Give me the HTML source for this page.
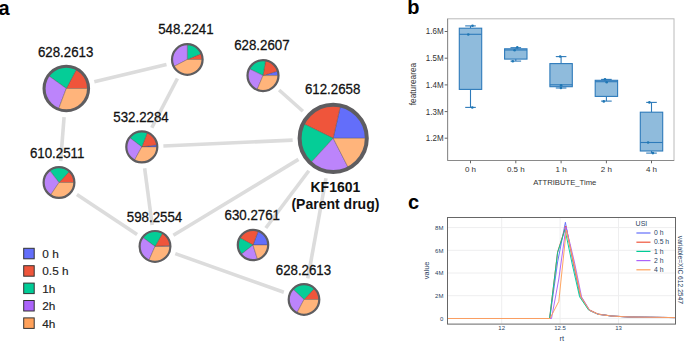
<!DOCTYPE html>
<html><head><meta charset="utf-8"><style>
html,body{margin:0;padding:0;background:#fff;}
svg{display:block;}
text{font-family:"Liberation Sans",sans-serif;}
</style></head><body>
<svg width="685" height="341" viewBox="0 0 685 341">
<rect width="685" height="341" fill="#fff"/>
<g font-weight="bold" font-size="20" fill="#000">
<text x="-1.4" y="14.5">a</text>
<text x="407.3" y="14.4">b</text>
<text x="407.9" y="208.9">c</text>
</g>
<g stroke="#dcdcdc" stroke-width="3.6" stroke-linecap="butt">
<line x1="94.31" y1="81.79" x2="166.49" y2="64.49"/>
<line x1="177.42" y1="78.48" x2="151.77" y2="127.74"/>
<line x1="64.07" y1="117.21" x2="60.66" y2="161.06"/>
<line x1="163.38" y1="145.93" x2="292.64" y2="140.12"/>
<line x1="144.64" y1="168.31" x2="152.17" y2="225.09"/>
<line x1="76.90" y1="194.41" x2="137.10" y2="234.49"/>
<line x1="173.38" y1="235.25" x2="298.49" y2="159.36"/>
<line x1="175.25" y1="253.62" x2="283.84" y2="292.32"/>
<line x1="279.11" y1="89.99" x2="302.92" y2="111.25"/>
<line x1="325.96" y1="178.25" x2="307.81" y2="278.44"/>
<line x1="265.80" y1="227.97" x2="308.81" y2="170.75"/>
</g>
<g stroke="rgba(70,60,60,0.55)" stroke-width="0.6">
<path d="M66.30,88.50 L88.55,88.50 A22.25,22.25 0 0 0 76.71,68.84 Z" fill="#ef553b"/>
<path d="M66.30,88.50 L76.71,68.84 A22.25,22.25 0 0 0 48.25,75.48 Z" fill="#05cd97"/>
<path d="M66.30,88.50 L48.25,75.48 A22.25,22.25 0 0 0 58.44,109.31 Z" fill="#bc84fb"/>
<path d="M66.30,88.50 L58.44,109.31 A22.25,22.25 0 0 0 88.55,88.50 Z" fill="#ffb47b"/>
<circle cx="66.3" cy="88.5" r="22.25" fill="none" stroke="#5e5d60" stroke-width="3.1"/>
<path d="M187.30,59.50 L202.60,59.50 A15.30,15.30 0 0 0 201.40,53.57 Z" fill="#ef553b"/>
<path d="M187.30,59.50 L201.40,53.57 A15.30,15.30 0 0 0 187.30,44.20 Z" fill="#05cd97"/>
<path d="M187.30,59.50 L187.30,44.20 A15.30,15.30 0 0 0 173.74,66.59 Z" fill="#bc84fb"/>
<path d="M187.30,59.50 L173.74,66.59 A15.30,15.30 0 0 0 202.60,59.50 Z" fill="#ffb47b"/>
<circle cx="187.3" cy="59.5" r="15.30" fill="none" stroke="#5e5d60" stroke-width="2.2"/>
<path d="M263.00,75.60 L278.50,75.60 A15.50,15.50 0 0 0 277.79,70.96 Z" fill="#636efa"/>
<path d="M263.00,75.60 L277.79,70.96 A15.50,15.50 0 0 0 265.61,60.32 Z" fill="#ef553b"/>
<path d="M263.00,75.60 L265.61,60.32 A15.50,15.50 0 0 0 249.14,68.66 Z" fill="#05cd97"/>
<path d="M263.00,75.60 L249.14,68.66 A15.50,15.50 0 0 0 256.99,89.89 Z" fill="#bc84fb"/>
<path d="M263.00,75.60 L256.99,89.89 A15.50,15.50 0 0 0 278.50,75.60 Z" fill="#ffb47b"/>
<circle cx="263.0" cy="75.6" r="15.50" fill="none" stroke="#5e5d60" stroke-width="2.2"/>
<path d="M333.20,138.30 L366.80,138.30 A33.60,33.60 0 0 0 340.53,105.51 Z" fill="#636efa"/>
<path d="M333.20,138.30 L340.53,105.51 A33.60,33.60 0 0 0 303.03,123.52 Z" fill="#ef553b"/>
<path d="M333.20,138.30 L303.03,123.52 A33.60,33.60 0 0 0 310.50,163.07 Z" fill="#05cd97"/>
<path d="M333.20,138.30 L310.50,163.07 A33.60,33.60 0 0 0 348.56,168.18 Z" fill="#bc84fb"/>
<path d="M333.20,138.30 L348.56,168.18 A33.60,33.60 0 0 0 366.80,138.30 Z" fill="#ffb47b"/>
<circle cx="333.2" cy="138.3" r="33.60" fill="none" stroke="#5e5d60" stroke-width="4.0"/>
<path d="M141.80,146.90 L157.30,146.90 A15.50,15.50 0 0 0 157.16,144.80 Z" fill="#636efa"/>
<path d="M141.80,146.90 L157.16,144.80 A15.50,15.50 0 0 0 147.33,132.42 Z" fill="#ef553b"/>
<path d="M141.80,146.90 L147.33,132.42 A15.50,15.50 0 0 0 129.49,137.49 Z" fill="#05cd97"/>
<path d="M141.80,146.90 L129.49,137.49 A15.50,15.50 0 0 0 134.33,160.48 Z" fill="#bc84fb"/>
<path d="M141.80,146.90 L134.33,160.48 A15.50,15.50 0 0 0 157.30,146.90 Z" fill="#ffb47b"/>
<circle cx="141.8" cy="146.9" r="15.50" fill="none" stroke="#5e5d60" stroke-width="2.2"/>
<path d="M59.00,182.50 L74.40,182.50 A15.40,15.40 0 0 0 69.54,171.27 Z" fill="#ef553b"/>
<path d="M59.00,182.50 L69.54,171.27 A15.40,15.40 0 0 0 49.54,170.35 Z" fill="#05cd97"/>
<path d="M59.00,182.50 L49.54,170.35 A15.40,15.40 0 0 0 50.46,195.31 Z" fill="#bc84fb"/>
<path d="M59.00,182.50 L50.46,195.31 A15.40,15.40 0 0 0 74.40,182.50 Z" fill="#ffb47b"/>
<circle cx="59.0" cy="182.5" r="15.40" fill="none" stroke="#5e5d60" stroke-width="2.2"/>
<path d="M155.00,246.40 L170.40,246.40 A15.40,15.40 0 0 0 170.38,245.59 Z" fill="#636efa"/>
<path d="M155.00,246.40 L170.38,245.59 A15.40,15.40 0 0 0 162.61,233.01 Z" fill="#ef553b"/>
<path d="M155.00,246.40 L162.61,233.01 A15.40,15.40 0 0 0 142.56,237.33 Z" fill="#05cd97"/>
<path d="M155.00,246.40 L142.56,237.33 A15.40,15.40 0 0 0 148.83,260.51 Z" fill="#bc84fb"/>
<path d="M155.00,246.40 L148.83,260.51 A15.40,15.40 0 0 0 170.40,246.40 Z" fill="#ffb47b"/>
<circle cx="155.0" cy="246.4" r="15.40" fill="none" stroke="#5e5d60" stroke-width="2.2"/>
<path d="M253.00,245.00 L268.20,245.00 A15.20,15.20 0 0 0 258.32,230.76 Z" fill="#636efa"/>
<path d="M253.00,245.00 L258.32,230.76 A15.20,15.20 0 0 0 239.65,237.72 Z" fill="#ef553b"/>
<path d="M253.00,245.00 L239.65,237.72 A15.20,15.20 0 0 0 241.07,254.42 Z" fill="#05cd97"/>
<path d="M253.00,245.00 L241.07,254.42 A15.20,15.20 0 0 0 257.57,259.50 Z" fill="#bc84fb"/>
<path d="M253.00,245.00 L257.57,259.50 A15.20,15.20 0 0 0 268.20,245.00 Z" fill="#ffb47b"/>
<circle cx="253.0" cy="245.0" r="15.20" fill="none" stroke="#5e5d60" stroke-width="2.2"/>
<path d="M304.00,299.50 L319.30,299.50 A15.30,15.30 0 0 0 314.49,288.37 Z" fill="#ef553b"/>
<path d="M304.00,299.50 L314.49,288.37 A15.30,15.30 0 0 0 292.87,289.01 Z" fill="#05cd97"/>
<path d="M304.00,299.50 L292.87,289.01 A15.30,15.30 0 0 0 296.86,313.03 Z" fill="#bc84fb"/>
<path d="M304.00,299.50 L296.86,313.03 A15.30,15.30 0 0 0 319.30,299.50 Z" fill="#ffb47b"/>
<circle cx="304.0" cy="299.5" r="15.30" fill="none" stroke="#5e5d60" stroke-width="2.2"/>
</g>
<g font-size="13.3" fill="#111" stroke="#111" stroke-width="0.25" text-anchor="middle">
<text transform="translate(65.65,56.5) scale(1,1.06)">628.2613</text>
<text transform="translate(185.9,34.2) scale(1,1.06)">548.2241</text>
<text transform="translate(261.85,49.9) scale(1,1.06)">628.2607</text>
<text transform="translate(332.6,94.1) scale(1,1.06)">612.2658</text>
<text transform="translate(141.05,121.9) scale(1,1.06)">532.2284</text>
<text transform="translate(57.1,157.6) scale(1,1.06)">610.2511</text>
<text transform="translate(154.55,221.9) scale(1,1.06)">598.2554</text>
<text transform="translate(252.25,220.2) scale(1,1.06)">630.2761</text>
<text transform="translate(303.45,275.0) scale(1,1.06)">628.2613</text>
</g>
<g font-size="14" font-weight="bold" fill="#111" text-anchor="middle">
<text x="335.4" y="191.8">KF1601</text>
<text x="335.4" y="208.8">(Parent drug)</text>
</g>
<g font-size="11.8" fill="#222" stroke="#222" stroke-width="0.15">
<rect x="23.7" y="248.30" width="10.5" height="10.5" fill="#636efa" stroke="#333" stroke-width="1"/>
<text x="42.3" y="258.00">0 h</text>
<rect x="23.7" y="265.70" width="10.5" height="10.5" fill="#ef553b" stroke="#333" stroke-width="1"/>
<text x="42.3" y="275.40">0.5 h</text>
<rect x="23.7" y="283.10" width="10.5" height="10.5" fill="#00cc96" stroke="#333" stroke-width="1"/>
<text x="42.3" y="292.80">1h</text>
<rect x="23.7" y="300.50" width="10.5" height="10.5" fill="#ab63fa" stroke="#333" stroke-width="1"/>
<text x="42.3" y="310.20">2h</text>
<rect x="23.7" y="317.90" width="10.5" height="10.5" fill="#ffa15a" stroke="#333" stroke-width="1"/>
<text x="42.3" y="327.60">4h</text>
</g>
<!-- panel b -->
<rect x="447.6" y="18.8" width="226.4" height="141.7" fill="none" stroke="#bababa" stroke-width="1"/>
<path d="M447.6,18.8 V160.5 H674" fill="none" stroke="#8a8a8a" stroke-width="1"/>
<g stroke="#2d7aba" stroke-width="1.1" fill="none">
<line x1="470.5" y1="25.9" x2="470.5" y2="28.2"/>
<line x1="470.5" y1="89.4" x2="470.5" y2="107.4"/>
<line x1="465.20" y1="25.9" x2="475.80" y2="25.9"/>
<line x1="465.20" y1="107.4" x2="475.80" y2="107.4"/>
<rect x="459.30" y="28.2" width="22.4" height="61.20" fill="#8fbbdc"/>
<line x1="459.30" y1="34.3" x2="481.70" y2="34.3"/>
<circle cx="472.5" cy="25.8" r="1.3" fill="#1f77b4" stroke="none"/>
<circle cx="468.3" cy="34.5" r="1.3" fill="#1f77b4" stroke="none"/>
<circle cx="472.3" cy="107.5" r="1.3" fill="#1f77b4" stroke="none"/>
<line x1="515.8" y1="47.7" x2="515.8" y2="48.8"/>
<line x1="515.8" y1="59.1" x2="515.8" y2="61.1"/>
<line x1="510.50" y1="47.7" x2="521.10" y2="47.7"/>
<line x1="510.50" y1="61.1" x2="521.10" y2="61.1"/>
<rect x="504.60" y="48.8" width="22.4" height="10.30" fill="#8fbbdc"/>
<line x1="504.60" y1="50.0" x2="527.00" y2="50.0"/>
<circle cx="517.3" cy="47.4" r="1.3" fill="#1f77b4" stroke="none"/>
<circle cx="514.6" cy="50.2" r="1.3" fill="#1f77b4" stroke="none"/>
<circle cx="512.8" cy="61.3" r="1.3" fill="#1f77b4" stroke="none"/>
<line x1="561.1" y1="56.6" x2="561.1" y2="63.6"/>
<line x1="561.1" y1="86.7" x2="561.1" y2="88.0"/>
<line x1="555.80" y1="56.6" x2="566.40" y2="56.6"/>
<line x1="555.80" y1="88.0" x2="566.40" y2="88.0"/>
<rect x="549.90" y="63.6" width="22.4" height="23.10" fill="#8fbbdc"/>
<line x1="549.90" y1="84.8" x2="572.30" y2="84.8"/>
<circle cx="560.2" cy="56.5" r="1.3" fill="#1f77b4" stroke="none"/>
<circle cx="561.1" cy="85.2" r="1.3" fill="#1f77b4" stroke="none"/>
<circle cx="560.9" cy="88.0" r="1.3" fill="#1f77b4" stroke="none"/>
<line x1="606.4" y1="79.4" x2="606.4" y2="80.3"/>
<line x1="606.4" y1="96.4" x2="606.4" y2="101.1"/>
<line x1="601.10" y1="79.4" x2="611.70" y2="79.4"/>
<line x1="601.10" y1="101.1" x2="611.70" y2="101.1"/>
<rect x="595.20" y="80.3" width="22.4" height="16.10" fill="#8fbbdc"/>
<line x1="595.20" y1="81.7" x2="617.60" y2="81.7"/>
<circle cx="605.0" cy="79.3" r="1.3" fill="#1f77b4" stroke="none"/>
<circle cx="606.7" cy="82.2" r="1.3" fill="#1f77b4" stroke="none"/>
<circle cx="603.8" cy="101.4" r="1.3" fill="#1f77b4" stroke="none"/>
<line x1="651.5" y1="102.4" x2="651.5" y2="112.2"/>
<line x1="651.5" y1="151.0" x2="651.5" y2="153.1"/>
<line x1="646.20" y1="102.4" x2="656.80" y2="102.4"/>
<line x1="646.20" y1="153.1" x2="656.80" y2="153.1"/>
<rect x="640.30" y="112.2" width="22.4" height="38.80" fill="#8fbbdc"/>
<line x1="640.30" y1="142.5" x2="662.70" y2="142.5"/>
<circle cx="649.4" cy="102.4" r="1.3" fill="#1f77b4" stroke="none"/>
<circle cx="648.1" cy="142.5" r="1.3" fill="#1f77b4" stroke="none"/>
<circle cx="652.9" cy="153.1" r="1.3" fill="#1f77b4" stroke="none"/>
</g>
<g stroke="#666" stroke-width="1">
<line x1="444.7" y1="31.5" x2="447.6" y2="31.5"/>
<line x1="444.7" y1="58.2" x2="447.6" y2="58.2"/>
<line x1="444.7" y1="84.9" x2="447.6" y2="84.9"/>
<line x1="444.7" y1="111.6" x2="447.6" y2="111.6"/>
<line x1="444.7" y1="138.2" x2="447.6" y2="138.2"/>
<line x1="470.5" y1="160.5" x2="470.5" y2="163.3"/>
<line x1="515.8" y1="160.5" x2="515.8" y2="163.3"/>
<line x1="561.1" y1="160.5" x2="561.1" y2="163.3"/>
<line x1="606.4" y1="160.5" x2="606.4" y2="163.3"/>
<line x1="651.5" y1="160.5" x2="651.5" y2="163.3"/>
</g>
<g font-size="8" fill="#333" text-anchor="end">
<text transform="translate(443.6,34.4) scale(1,1.15)">1.6M</text>
<text transform="translate(443.6,61.1) scale(1,1.15)">1.5M</text>
<text transform="translate(443.6,87.8) scale(1,1.15)">1.4M</text>
<text transform="translate(443.6,114.5) scale(1,1.15)">1.3M</text>
<text transform="translate(443.6,141.1) scale(1,1.15)">1.2M</text>
</g>
<g font-size="8" fill="#333" text-anchor="middle">
<text x="470.5" y="172.1">0 h</text>
<text x="515.8" y="172.1">0.5 h</text>
<text x="561.1" y="172.1">1 h</text>
<text x="606.4" y="172.1">2 h</text>
<text x="651.5" y="172.1">4 h</text>
<text x="564.8" y="184.6" font-size="7.7">ATTRIBUTE_Time</text>
<text transform="translate(415.6,84) rotate(-90)" font-size="8.3">featurearea</text>
</g>
<!-- panel c -->
<g stroke="#eeeeef" stroke-width="1">
<line x1="447.5" y1="227.60" x2="675.5" y2="227.60"/>
<line x1="447.5" y1="250.30" x2="675.5" y2="250.30"/>
<line x1="447.5" y1="273.00" x2="675.5" y2="273.00"/>
<line x1="447.5" y1="295.70" x2="675.5" y2="295.70"/>
<line x1="447.5" y1="318.40" x2="675.5" y2="318.40"/>
<line x1="501.70" y1="217.6" x2="501.70" y2="323.9"/>
<line x1="560.10" y1="217.6" x2="560.10" y2="323.9"/>
<line x1="618.50" y1="217.6" x2="618.50" y2="323.9"/>
</g>
<g fill="none" stroke-width="0.95" stroke-linejoin="round">
<polyline points="447.5,318.5 549.8,318.5 557.6,262.0 565.4,222.3 573.0,262.5 580.3,296.5 588.8,310.0 597.8,314.2 612.0,316.1 630.0,317.0 675.5,317.6" stroke="#636efa"/>
<polyline points="447.5,318.5 549.6,318.5 557.6,252.0 565.8,226.0 573.4,262.0 580.6,296.0 589.0,309.6 598.0,314.0 612.0,316.0 630.0,317.0 675.5,317.6" stroke="#ef553b"/>
<polyline points="447.5,318.5 549.6,318.5 557.6,252.5 565.0,229.5 572.4,265.0 579.6,296.8 588.6,310.0 597.8,314.2 612.0,316.1 630.0,317.0 675.5,317.6" stroke="#00cc96"/>
<polyline points="447.5,318.5 551.5,318.5 558.8,279.0 566.0,227.0 574.4,262.0 581.6,297.0 589.8,310.4 598.3,314.3 612.0,316.1 630.0,317.0 675.5,317.6" stroke="#ab63fa"/>
<polyline points="447.5,318.5 550.0,318.5 558.8,301.4 566.3,230.0 573.8,263.0 581.0,297.2 589.5,310.3 598.5,314.4 612.0,316.1 630.0,317.0 675.5,317.6" stroke="#ffa15a"/>
</g>
<rect x="447.5" y="217.5" width="228" height="106.6" fill="none" stroke="#666" stroke-width="1"/>
<g font-size="6" fill="#2a3f5f" text-anchor="end">
<text x="443.4" y="229.80">8M</text>
<text x="443.4" y="252.50">6M</text>
<text x="443.4" y="275.20">4M</text>
<text x="443.4" y="297.90">2M</text>
<text x="443.4" y="320.60">0</text>
</g>
<g font-size="6" fill="#2a3f5f" text-anchor="middle">
<text x="501.70" y="330.1">12</text>
<text x="560.10" y="330.1">12.5</text>
<text x="618.50" y="330.1">13</text>
<text x="561.8" y="341.3" font-size="7.5">rt</text>
<text transform="translate(429.4,270.4) rotate(-90)" font-size="7.4">value</text>
<text transform="translate(677.8,269.9) rotate(90)" font-size="6.7">variable=XIC 612.2547</text>
</g>
<g font-size="7" fill="#2a3f5f">
<text x="635.6" y="226.1">USI</text>
</g>
<g font-size="6.8" fill="#2a3f5f" stroke-width="1.2">
<line x1="636.4" y1="233.0" x2="650.5" y2="233.0" stroke="#636efa"/>
<text x="654" y="235.2">0 h</text>
<line x1="636.4" y1="242.2" x2="650.5" y2="242.2" stroke="#ef553b"/>
<text x="654" y="244.4">0.5 h</text>
<line x1="636.4" y1="251.4" x2="650.5" y2="251.4" stroke="#00cc96"/>
<text x="654" y="253.6">1 h</text>
<line x1="636.4" y1="260.6" x2="650.5" y2="260.6" stroke="#ab63fa"/>
<text x="654" y="262.8">2 h</text>
<line x1="636.4" y1="269.8" x2="650.5" y2="269.8" stroke="#ffa15a"/>
<text x="654" y="272.0">4 h</text>
</g>
</svg>
</body></html>
